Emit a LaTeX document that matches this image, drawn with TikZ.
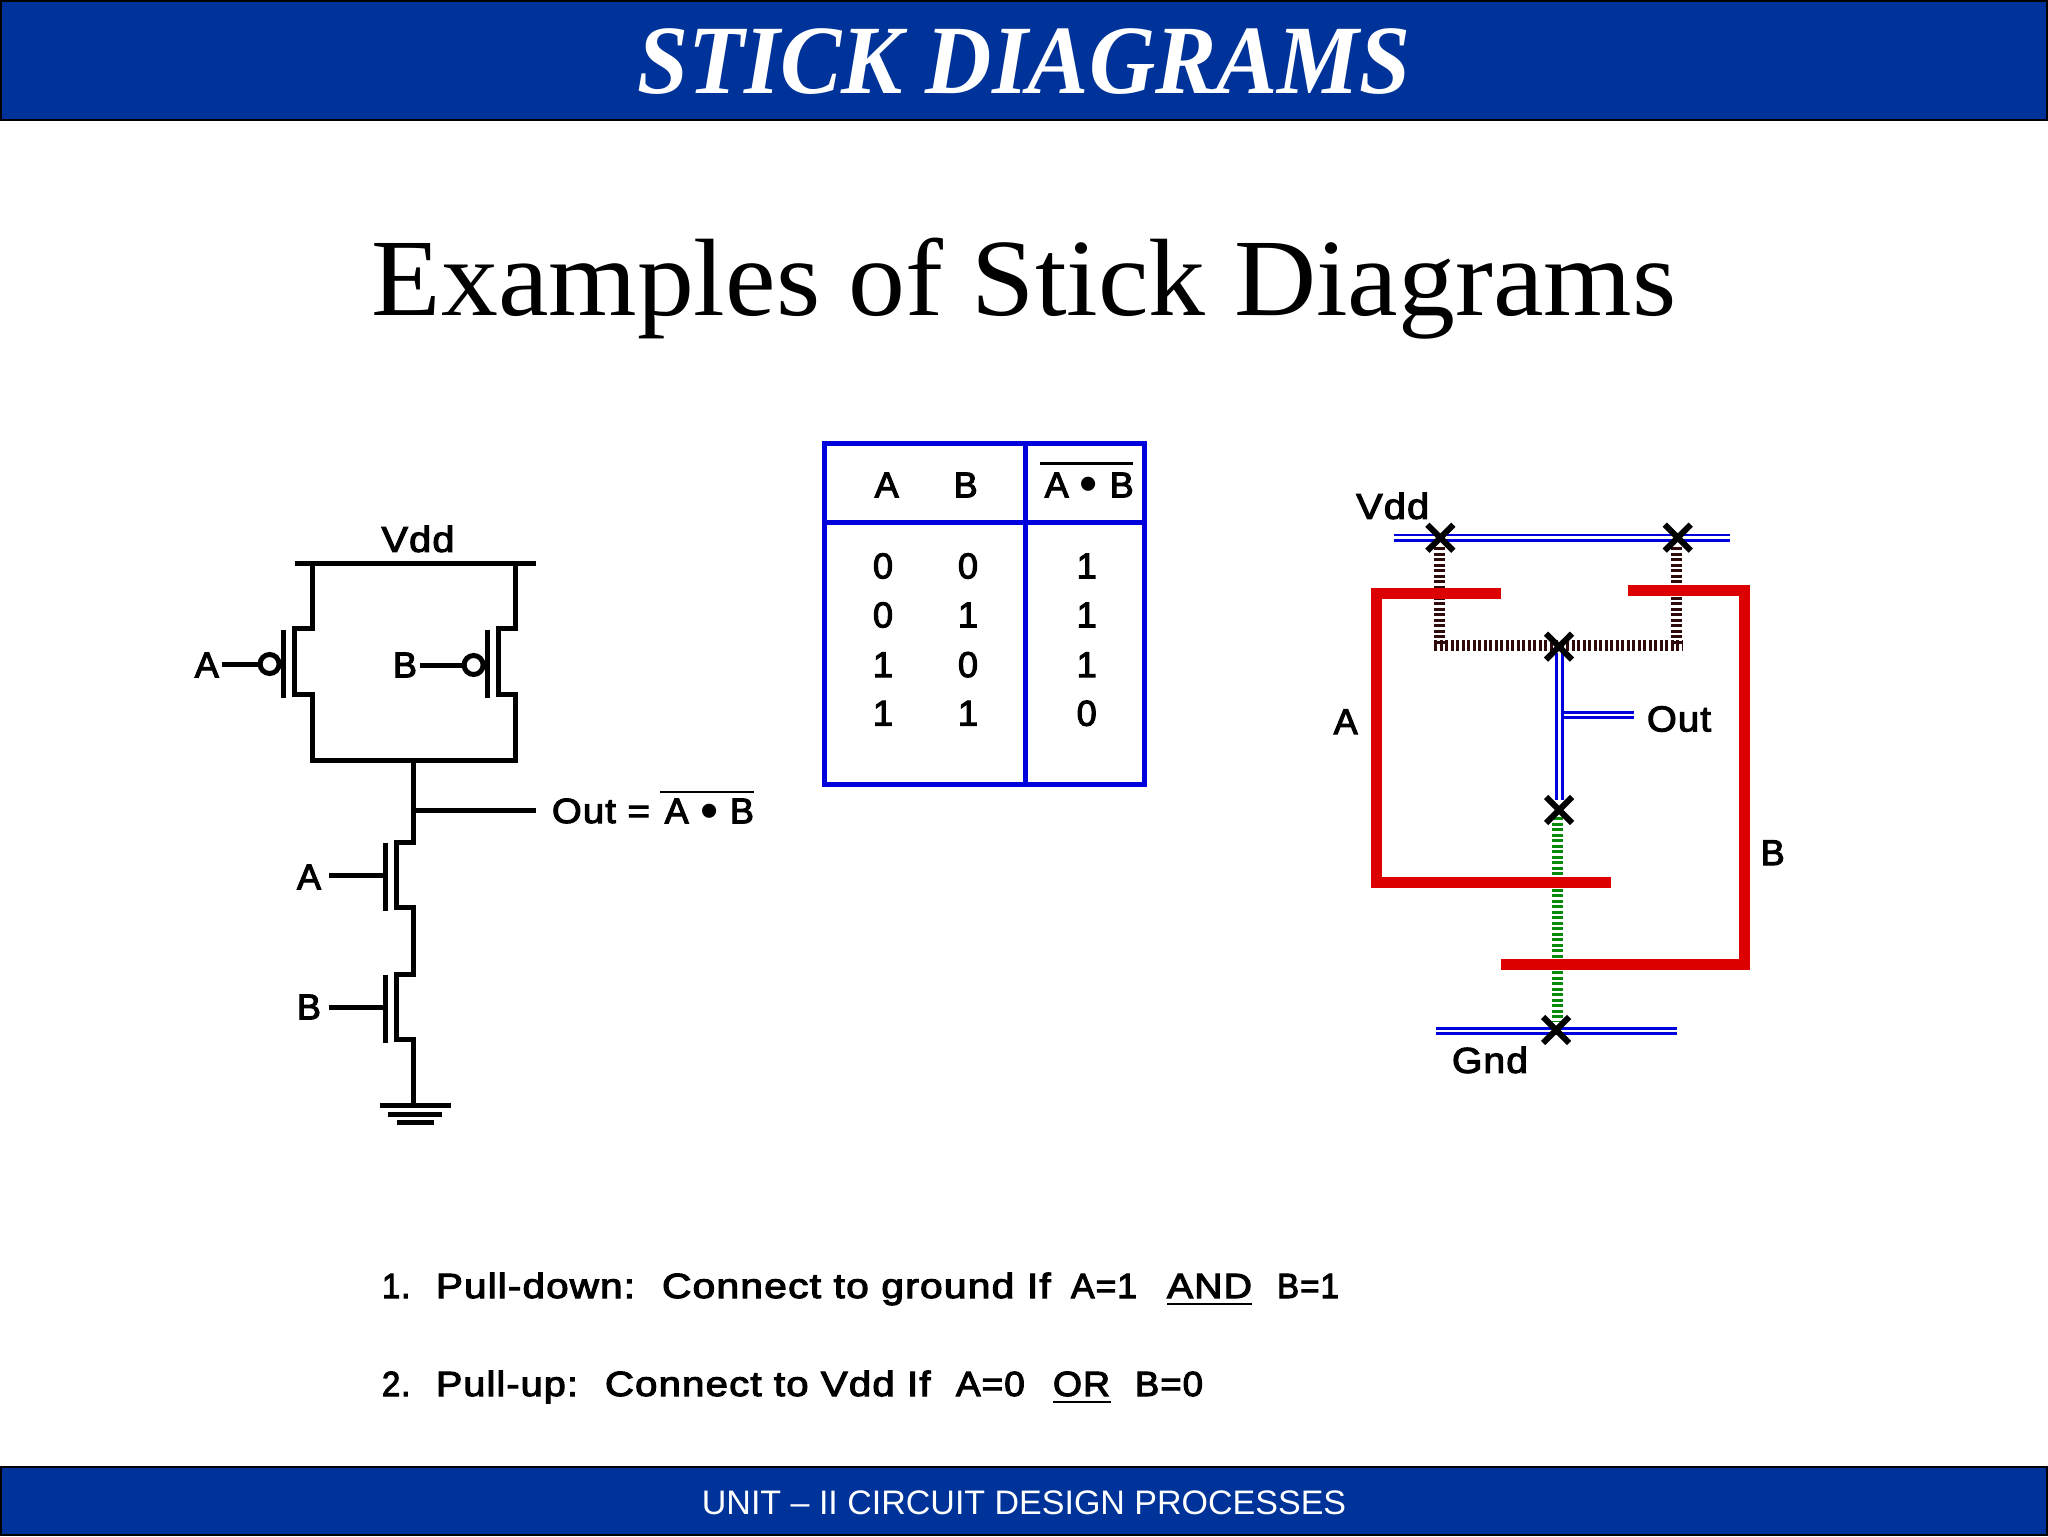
\documentclass[tikz,border=0pt]{standalone}
\usepackage{fontspec}
\usetikzlibrary{shapes.misc}
\setmainfont{Liberation Serif}
\newfontfamily\sansf{Liberation Sans}
\newfontfamily\bmf[LetterSpace=3,FakeBold=3]{Liberation Sans}
\definecolor{band}{HTML}{003399}
\definecolor{wireblue}{HTML}{0000DD}
\definecolor{polyred}{HTML}{DD0000}
\definecolor{diffbrown}{HTML}{2E0A0A}
\definecolor{diffgreen}{HTML}{0A8A0A}
\newcommand{\fitw}[2]{\resizebox{#1pt}{\height}{#2}}
\tikzset{
  x=0.5pt,y=-0.5pt,
  every node/.style={inner sep=0pt,outer sep=0pt},
  banner/.style={fill=band,draw=black,line width=1pt},
  wire/.style={line width=2.5pt,line cap=butt,line join=miter},
  lab/.style={font=\bmf\fontsize{18}{20}\selectfont,anchor=center},
  bul/.style={font=\sansf\fontsize{26}{26}\selectfont,anchor=center},
  textlab/.style={font=\bmf\fontsize{17.5}{20}\selectfont,anchor=base west},
  tbl/.style={draw=wireblue,line width=2.5pt},
  polyline/.style={draw=polyred,line width=5.5pt,line cap=butt,line join=miter},
  strip/.style={line width=5.5pt,dash pattern=on 1.5pt off 1.25pt},
  metalA/.style={draw=wireblue,line width=1.3pt},
  via/.style={cross out,draw=black,line width=3pt,minimum size=13pt},
  bubble/.style={circle,draw=black,line width=2.5pt,minimum size=9.5pt},
  thinbar/.style={line width=1.25pt},
}
\begin{document}
\begin{tikzpicture}
\useasboundingbox (0,0) rectangle (2048,1536);
\fill[white] (0,0) rectangle (2048,1536);
% banners
\path[banner] (1,1) rectangle (2047,119.5);
\path[banner] (1,1467) rectangle (2047,1535);
\node[font=\bfseries\itshape\fontsize{49}{54}\selectfont,text=white] (head) at (1024,62) {\scalebox{0.937}[1]{STICK DIAGRAMS}};
\node[font=\sansf\fontsize{17}{22}\selectfont,text=white] (foot) at (1024,1503) {UNIT – II CIRCUIT DESIGN PROCESSES};
\node[font=\fontsize{55}{60}\selectfont,anchor=base] (title) at (1024,315) {\scalebox{1.034}[1]{Examples of Stick Diagrams}};
% CMOS schematic
\draw[wire] (295,563.5) -- (535.6,563.5);
\draw[wire] (312.3,563.5) |- (294.9,628.3) |- (312.3,694.7) |- (515.8,760.2) |- (498,694.7) |- (515.8,628.3) -- (515.8,563.5);
\draw[wire] (413.5,760.2) |- (396,842.2) |- (413.5,907.8) |- (396,974.2) |- (413.5,1039.8) -- (413.5,1105.7);
\draw[wire] (283.4,629.5) -- (283.4,697.5);
\draw[wire] (487.4,629.5) -- (487.4,697.5);
\draw[wire] (385.4,843.4) -- (385.4,911);
\draw[wire] (385.4,974.6) -- (385.4,1043);
\node[bubble] (bubA) at (269.6,664) {};
\node[bubble] (bubB) at (473.6,665) {};
\node[lab] (pA) at (206.8,665) {A};
\node[lab] (pB) at (405,665) {B};
\node[lab] (nA) at (309,877) {A};
\node[lab] (nB) at (309,1007) {B};
\node[lab] (vdd1) at (418,539) {\fitw{36.5}{Vdd}};
\draw[wire] (222,664) -- (bubA);
\draw[wire] (419.8,665) -- (bubB);
\draw[wire] (329,875.8) -- (385.4,875.8);
\draw[wire] (329,1007.4) -- (385.4,1007.4);
\draw[wire] (413.5,810) -- (535.6,810);
\draw[wire] (379.5,1105.7) -- (450.6,1105.7);
\draw[wire] (387.8,1114) -- (442.3,1114);
\draw[wire] (396.5,1122) -- (433.6,1122);
\node[textlab] (out1) at (552,823) {\fitw{49}{Out =}};
\node[lab] (ab1a) at (676.7,811) {A};
\node[bul] (ab1d) at (709.5,816) {•};
\node[lab] (ab1b) at (742,811) {B};
\draw[thinbar] (660,792) -- (754,792);
% truth table
\draw[tbl] (824,443.3) rectangle (1144,784);
\draw[tbl] (1025.3,443.3) -- (1025.3,784);
\draw[tbl] (824,522) -- (1144,522);
\node[lab] (hA) at (886.7,485) {A};
\node[lab] (hB) at (965.7,485) {B};
\node[lab] (hnA) at (1056.7,485) {A};
\node[bul] (hnd) at (1089,489) {•};
\node[lab] (hnB) at (1121.7,485) {B};
\draw[thinbar] (1040,463.3) -- (1132.7,463.3);
\foreach \y/\a/\b/\c in {566/0/0/1,615/0/1/1,664.7/1/0/1,713.3/1/1/0}{
  \node[lab] at (883,\y) {\a};
  \node[lab] at (968,\y) {\b};
  \node[lab] at (1086.7,\y) {\c};
}
% stick diagram
\coordinate (v1) at (1440.3,537.7);
\coordinate (v2) at (1677.7,537.7);
\coordinate (v3) at (1559,646.7);
\coordinate (v4) at (1559,810);
\coordinate (v5) at (1556,1030);
\draw[strip,diffbrown] (1439,547) -- (1439,645);
\draw[strip,diffbrown] (1676.7,547) -- (1676.7,645);
\draw[strip,diffbrown] (1434,645) -- (1682,645);
\draw[strip,diffgreen] (1557.7,817) -- (1557.7,1022);
\draw[polyline] (1501,593.3) -| (1376.3,882.7) -- (1611.3,882.7);
\draw[polyline] (1628.3,590.7) -| (1744.3,964.3) -- (1501,964.3);
\draw[metalA] (1393.7,535) -- (1730,535);
\draw[metalA] (1393.7,540.3) -- (1730,540.3);
\draw[metalA] (1556.7,653) -- (1556.7,800);
\draw[metalA] (1562.3,653) -- (1562.3,800);
\draw[metalA] (1562.3,712.3) -- (1634.3,712.3);
\draw[metalA] (1562.3,717.7) -- (1634.3,717.7);
\draw[metalA] (1436,1028.3) -- (1676.7,1028.3);
\draw[metalA] (1436,1033.7) -- (1676.7,1033.7);
\node[via] (x1) at (v1) {};
\node[via] (x2) at (v2) {};
\node[via] (x3) at (v3) {};
\node[via] (x4) at (v4) {};
\node[via] (x5) at (v5) {};
\node[lab] (vdd2) at (1392.7,506) {\fitw{36.5}{Vdd}};
\node[lab] (sA) at (1345.7,721.7) {A};
\node[lab] (sB) at (1772.7,852.7) {B};
\node[lab] (sOut) at (1679,719) {\fitw{32}{Out}};
\node[lab] (gnd) at (1490,1060) {\fitw{38}{Gnd}};
% notes
\node[textlab] (n1) at (382,1298) {\fitw{14.2}{1.}};
\node[textlab] (n2) at (436,1298) {\fitw{99.5}{Pull-down:}};
\node[textlab] (n3) at (662,1298) {\fitw{194.4}{Connect to ground If}};
\node[textlab] (n4) at (1071,1298) {\fitw{33}{A=1}};
\node[textlab] (and) at (1167,1298) {\fitw{42.5}{AND}};
\node[textlab] (n5) at (1277,1298) {\fitw{31}{B=1}};
\draw[thinbar] (1167,1304) -- (1252,1304);
\node[textlab] (m1) at (382,1396) {\fitw{14.2}{2.}};
\node[textlab] (m2) at (436,1396) {\fitw{71}{Pull-up:}};
\node[textlab] (m3) at (605,1396) {\fitw{162.8}{Connect to Vdd If}};
\node[textlab] (m4) at (956,1396) {\fitw{34.4}{A=0}};
\node[textlab] (or) at (1053,1396) {\fitw{28.5}{OR}};
\node[textlab] (m5) at (1135,1396) {\fitw{34}{B=0}};
\draw[thinbar] (1053,1402) -- (1111,1402);
\end{tikzpicture}
\end{document}
